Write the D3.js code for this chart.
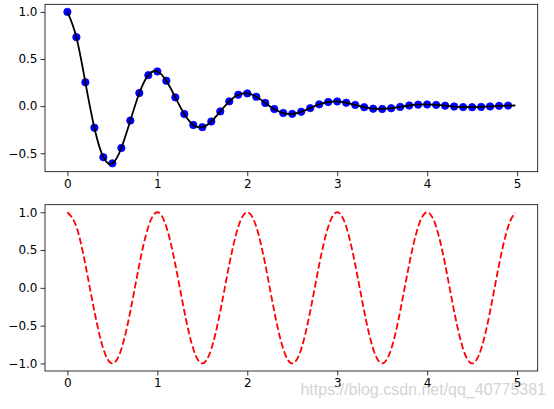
<!DOCTYPE html>
<html><head><meta charset="utf-8">
<script src="https://cdn.jsdelivr.net/npm/d3@7/dist/d3.min.js"></script>
<style>html,body{margin:0;padding:0;background:#fff;}svg{display:block;}</style>
</head><body>
<script>
// Sample times (t1) and damped-cosine values
const t1 = [0.0,0.1,0.2,0.3,0.4,0.5,0.6,0.7,0.8,0.9,1.0,1.1,1.2,1.3,1.4,1.5,1.6,1.7,1.8,1.9,
            2.0,2.1,2.2,2.3,2.4,2.5,2.6,2.7,2.8,2.9,3.0,3.1,3.2,3.3,3.4,3.5,3.6,3.7,3.8,3.9,
            4.0,4.1,4.2,4.3,4.4,4.5,4.6,4.7,4.8,4.9];
const dampedValues = [1.000,0.732,0.253,-0.229,-0.542,-0.607,-0.444,-0.153,0.139,0.329,
                      0.368,0.269,0.093,-0.084,-0.200,-0.223,-0.163,-0.056,0.051,0.121,
                      0.135,0.099,0.034,-0.031,-0.073,-0.082,-0.060,-0.021,0.019,0.044,
                      0.050,0.036,0.013,-0.011,-0.027,-0.030,-0.022,-0.008,0.007,0.016,
                      0.018,0.013,0.005,-0.004,-0.010,-0.011,-0.008,-0.003,0.003,0.006];
// Line series extends to t = 4.98
const lineT = t1.concat([4.98]);
const dampedLine = dampedValues.concat([0.007]);
// Bottom panel: cosine, red dashed
const cosValues = [1,0.809,0.309,-0.309,-0.809,-1,-0.809,-0.309,0.309,0.809,
                   1,0.809,0.309,-0.309,-0.809,-1,-0.809,-0.309,0.309,0.809,
                   1,0.809,0.309,-0.309,-0.809,-1,-0.809,-0.309,0.309,0.809,
                   1,0.809,0.309,-0.309,-0.809,-1,-0.809,-0.309,0.309,0.809,
                   1,0.809,0.309,-0.309,-0.809,-1,-0.809,-0.309,0.309,0.809,
                   0.992];
const xTicks = [0,1,2,3,4,5];
const yTicksTop = [-0.5,0.0,0.5,1.0];
const yTicksBottom = [-1.0,-0.5,0.0,0.5,1.0];
const watermark = "https://blog.csdn.net/qq_40775381";

const W = 554, H = 409;
const svg = d3.select("body").append("svg").attr("width", W).attr("height", H);
const font = "'DejaVu Sans', sans-serif";

function margins(lo, hi){ const r = hi - lo; return [lo - 0.05*r, hi + 0.05*r]; }

const left = 45, right = 537.7;
const xDom = margins(0, 4.98);
const x = d3.scaleLinear().domain(xDom).range([left, right]);

function panel(top, bottom, yDom, yTicks){
  const y = d3.scaleLinear().domain(yDom).range([bottom, top]);
  const g = svg.append("g");
  const xa = g.append("g").attr("transform", `translate(0,${bottom})`)
    .call(d3.axisBottom(x).tickValues(xTicks).tickFormat(d3.format("d")).tickSize(4.5).tickPadding(3));
  const ya = g.append("g").attr("transform", `translate(${left},0)`)
    .call(d3.axisLeft(y).tickValues(yTicks).tickFormat(d => d3.format(".1f")(d).replace("-", "\u2212")).tickSize(4.5).tickPadding(3));
  [xa, ya].forEach(a => {
    a.select(".domain").remove();
    a.selectAll("line").attr("stroke", "#000").attr("stroke-width", 0.8);
    a.selectAll("text").attr("font-family", font).attr("font-size", 12).attr("fill", "#000");
  });
  return {g, y, top, bottom};
}
function frame(p){
  p.g.append("rect").attr("x", left).attr("y", p.top).attr("width", right-left).attr("height", p.bottom-p.top)
    .attr("fill", "none").attr("stroke", "#000").attr("stroke-width", 0.8);
}

// Top panel
const p1 = panel(4.3, 171.7, margins(-0.6149, 1.0), yTicksTop);
const clip1 = svg.append("clipPath").attr("id","c1").append("rect")
  .attr("x", left).attr("y", p1.top).attr("width", right-left).attr("height", p1.bottom-p1.top);
const plot1 = p1.g.append("g").attr("clip-path","url(#c1)");
plot1.selectAll("circle").data(t1).join("circle")
  .attr("cx", d => x(d)).attr("cy", (d,i) => p1.y(dampedValues[i])).attr("r", 3.7)
  .attr("fill", "#0000ff").attr("stroke", "#0000ff").attr("stroke-width", 0.8);
plot1.append("path").datum(lineT)
  .attr("d", d3.line().x(d => x(d)).y((d,i) => p1.y(dampedLine[i])).curve(d3.curveNatural))
  .attr("fill", "none").attr("stroke", "#000").attr("stroke-width", 1.8);
frame(p1);

// Bottom panel
const p2 = panel(204.7, 371, margins(-1, 1), yTicksBottom);
svg.append("clipPath").attr("id","c2").append("rect")
  .attr("x", left).attr("y", p2.top).attr("width", right-left).attr("height", p2.bottom-p2.top);
const plot2 = p2.g.append("g").attr("clip-path","url(#c2)");
plot2.append("path").datum(lineT)
  .attr("d", d3.line().x(d => x(d)).y((d,i) => p2.y(cosValues[i])).curve(d3.curveNatural))
  .attr("fill", "none").attr("stroke", "#ff0000").attr("stroke-width", 1.8)
  .attr("stroke-dasharray", "6.7,2.9");
frame(p2);

// Watermark
svg.append("text").attr("x", 546).attr("y", 395).attr("text-anchor", "end")
  .attr("font-family", "'Liberation Sans', Arial, sans-serif").attr("font-size", 16)
  .attr("fill", "#c8c8c8").attr("fill-opacity", 0.8).text(watermark);
</script>
</body></html>
